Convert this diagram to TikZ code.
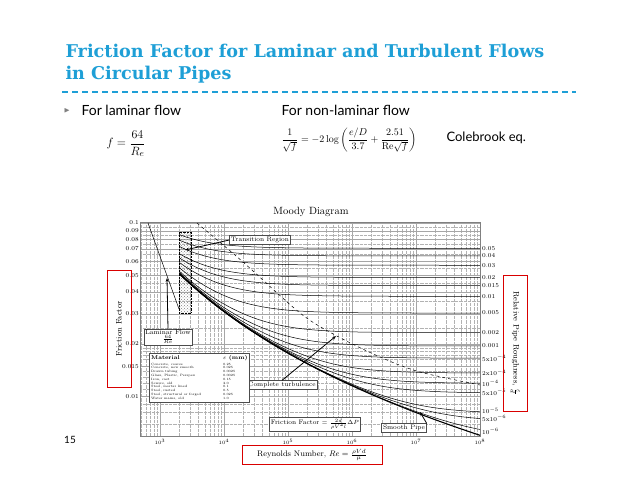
\documentclass[tikz,border=0pt]{standalone}
\usepackage{fontspec}
\usepackage{amsmath,amssymb}
\usetikzlibrary{patterns,arrows.meta}
\newfontfamily\titlefont{DejaVu Serif}
\newfontfamily\gill{Lato}
\newfontfamily\tnr{Liberation Serif}
\definecolor{ttl}{HTML}{1E9FD6}
\begin{document}
\begin{tikzpicture}[x=1pt,y=-1pt,
  declare function={bb(\t)=0.7589-0.9*\t;
    LL(\t,\a)=max(\a,bb(\t))+log10(1+10^(min(\a,bb(\t))-max(\a,bb(\t))));
    fy(\t,\a)=49+174*(0.60206+2*log10(-LL(\t,\a)));},
  lbl/.style={draw=black!70,fill=white,inner sep=1.5pt,font=\fontsize{6.5}{7}\selectfont},
  redbox/.style={draw=red!85!black,line width=1pt},
  arr/.style={-{Stealth[length=4pt]},line width=0.8pt},
  curve/.style={line width=0.5pt}]
\useasboundingbox (0,0) rectangle (638,493);
% title
\node[anchor=west,text=ttl,font=\titlefont\bfseries\fontsize{17.6}{21}\selectfont] (t1) at (62,51) {Friction Factor for Laminar and Turbulent Flows};
\node[anchor=west,text=ttl,font=\titlefont\bfseries\fontsize{17.6}{21}\selectfont] (t2) at (62,75) {in Circular Pipes};
\draw[ttl,dashed,line width=1.3pt,dash pattern=on 6pt off 4pt] (62,92) -- (576,92);
\node[text=gray,font=\fontsize{7}{8}\selectfont] (bul) at (67,111) {$\blacktriangleright$};
\node[anchor=west,font=\gill\fontsize{14}{16}\selectfont] (lam) at (78,110) {For laminar flow};
\node[anchor=west,font=\gill\fontsize{14}{16}\selectfont] (nlam) at (278,110) {For non-laminar flow};
\node[anchor=west,font=\tnr\fontsize{13}{15}\selectfont] (eq1) at (103,144) {$f=\dfrac{64}{R_e}$};
\node[anchor=west,font=\tnr\fontsize{10}{12}\selectfont] (eq2) at (278,140) {$\dfrac{1}{\sqrt{f}}=-2\log\left(\dfrac{e/D}{3.7}+\dfrac{2.51}{\mathrm{Re}\sqrt{f}}\right)$};
\node[anchor=west,font=\gill\fontsize{13}{15}\selectfont] (cb) at (443,138) {Colebrook eq.};
\node[font=\gill\fontsize{10}{12}\selectfont] (pg) at (70,440) {15};
% chart
\node[font=\fontsize{10.5}{12}\selectfont] (mt) at (311,212) {Moody Diagram};
% grid
\foreach \d in {-1,0,...,4}{
  \foreach \k in {2,...,9}{
    \pgfmathsetmacro\xx{160+64*(\d+log10(\k))}
    \ifdim\xx pt>140pt \ifdim\xx pt<480pt
      \draw[gray!60,densely dotted,line width=0.3pt] (\xx,222) -- (\xx,436);
    \fi\fi }}
\foreach \d in {0,...,5}{\draw[gray!70,line width=0.3pt] ({160+64*\d},222) -- ({160+64*\d},436);}
\foreach \v in {0.007,0.008,0.009,0.011,0.012,0.013,0.014,0.016,0.017,0.018,0.019,0.025,0.035,0.045,0.055,0.065,0.075,0.085,0.095}{
  \draw[gray!60,densely dotted,line width=0.3pt] (140,{49-174*log10(\v)}) -- (480,{49-174*log10(\v)});}
\foreach \v/\s in {0.1/0.1,0.09/0.09,0.08/0.08,0.07/0.07,0.06/0.06,0.05/0.05,0.04/0.04,0.03/0.03,0.02/0.02,0.015/0.015,0.01/0.01}{
  \draw[gray!70,line width=0.3pt] (140,{49-174*log10(\v)}) -- (480,{49-174*log10(\v)});
  \node[anchor=east,font=\fontsize{6}{6}\selectfont,inner sep=1pt] at (140,{49-174*log10(\v)}) {\s};}
\draw[gray,line width=0.4pt] (140,222) rectangle (480,436);
\foreach \d in {3,...,8}{\node[font=\fontsize{5}{6}\selectfont] at ({160+64*(\d-3)},442) {$10^{\d}$};}
% transition region
\draw[densely dotted,pattern=crosshatch dots,pattern color=gray] (179,232) rectangle (191,313);
% laminar
\draw[curve] (148,223) -- (179,309);
% turbulent curves
\foreach \a/\l/\ys in {-1.301/0.05/0,-1.398/0.04/0,-1.523/0.03/0,-1.699/0.02/0,-1.824/0.015/0,-2/0.01/0,-2.301/0.005/0,-2.699/0.002/0,-3/0.001/0,-3.301/5x10$^{-4}$/0,-3.699/2x10$^{-4}$/0,-4/10$^{-4}$/0,-4.301/5x10$^{-5}$/0,-5/10$^{-5}$/-1,-5.301/5x10$^{-6}$/0,-6/10$^{-6}$/2}{
  \pgfmathsetmacro\aa{\a-0.5682}
  \draw[curve] plot[domain=3.301:8,samples=50,variable=\t,smooth] ({160+64*(\t-3)},{fy(\t,\aa)})
    node[right,font=\fontsize{6}{6}\selectfont,inner sep=2pt,yshift=-\ys pt] {\l};}
\draw[line width=1.1pt] plot[domain=3.301:8,samples=50,variable=\t,smooth] ({160+64*(\t-3)},{fy(\t,-30)});
% complete turbulence boundary
\draw[dashed,line width=0.5pt] plot[smooth] coordinates {(197,223) (243,262) (300,313) (335,335) (380,357) (420,372) (480,385)};
% labels
\node[lbl] (tr) at (260,240) {Transition Region};
\coordinate (trp) at (185,250);
\draw[arr] (tr.west) -- (trp);
\node[lbl,align=center] (lf) at (168,337) {Laminar Flow\\[-1pt]$\frac{64}{Re}$};
\coordinate (lfp) at (167,278);
\draw[arr] (lf.north) -- (lfp);
\node[lbl] (ct) at (282,385) {Complete turbulence};
\coordinate (ctp) at (336,336);
\draw[arr] (ct.north) -- (ctp);
\node[lbl] (ff) at (315,424) {Friction Factor $=\frac{2d}{\rho V^2 l}\Delta P$};
\node[lbl] (sp) at (404,428) {Smooth Pipe};
\coordinate (spp) at (420,412);
\draw[arr] (sp.north east) -- (spp);
% material table
\node[draw=black!70,fill=white,anchor=north west,inner sep=2pt,font=\fontsize{3.2}{3.8}\selectfont] (mat) at (149,353) {%
\begin{tabular}{@{}l@{\hspace{22pt}}l@{}}
\multicolumn{1}{@{}l}{\fontsize{5.5}{6}\selectfont\bfseries Material} & {\fontsize{5.5}{6}\selectfont\bfseries $\varepsilon$ (mm)}\\[2pt]
Concrete, coarse & 0.25\\
Concrete, new smooth & 0.025\\
Drawn tubing & 0.0025\\
Glass, Plastic, Perspex & 0.0025\\
Iron, cast & 0.15\\
Sewers, old & 3.0\\
Steel, mortar lined & 0.1\\
Steel, rusted & 0.5\\
Steel, structural or forged & 0.025\\
Water mains, old & 1.0
\end{tabular}};
% axis titles + red boxes
\draw[redbox] (107,270) rectangle (131,387);
\node[rotate=90,font=\fontsize{8}{8}\selectfont] (yl) at (119,329) {Friction Factor};
\draw[redbox] (503,275) rectangle (527,411);
\node[rotate=-90,font=\fontsize{8}{8}\selectfont] (yr) at (515,343) {Relative Pipe Roughness, $\frac{\varepsilon}{d}$};
\draw[redbox] (242,445) rectangle (382,464);
\node[font=\fontsize{8}{8}\selectfont] (xl) at (312,455) {Reynolds Number, $Re=\frac{\rho V d}{\mu}$};
\end{tikzpicture}
\end{document}
